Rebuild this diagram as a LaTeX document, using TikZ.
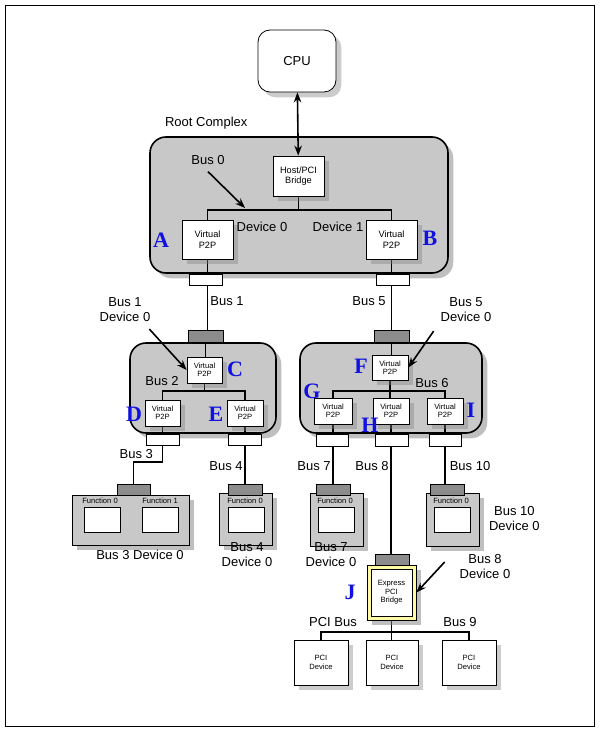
\documentclass[tikz,border=0pt]{standalone}
\usepackage{fontspec}
\setmainfont{Liberation Sans}
\newfontfamily\serifltr{Liberation Serif}
\usetikzlibrary{shadows,arrows.meta}
\pgfdeclarelayer{bg}\pgfdeclarelayer{mid}\pgfsetlayers{bg,mid,main}
\newcommand\pbox[7]{\pgfmathsetmacro\cx{(#3+#5)/2}\pgfmathsetmacro\cy{(#4+#6)/2}\pgfmathsetmacro\ww{(#5-#3)*0.5}\pgfmathsetmacro\hh{(#6-#4)*0.5}\node[#1,minimum width=\ww pt,minimum height=\hh pt,inner sep=0pt,align=center] (#2) at (\cx,\cy) {#7};}
\definecolor{grp}{HTML}{C8C8C8}
\definecolor{prt}{HTML}{8C8C8C}
\definecolor{lblue}{HTML}{1010E0}
\tikzset{
 grpbox/.style={draw,thick,fill=grp,rounded corners=8pt,drop shadow={opacity=0.5}},
 wbox/.style={draw,fill=white,drop shadow={opacity=0.4}},
 plain/.style={draw,fill=white},
 gport/.style={draw,fill=prt},
 wport/.style={draw,fill=white},
 devbox/.style={draw,fill=grp,drop shadow={opacity=0.5}},
 lab/.style={font=\fontsize{6.5}{7.5}\selectfont,align=center},
 small/.style={font=\fontsize{4.6}{5.2}\selectfont},
 tiny/.style={font=\fontsize{3.8}{4.2}\selectfont},
 let/.style={font=\serifltr\fontsize{11}{11}\selectfont\bfseries,text=lblue},
 conn/.style={thick},
 arr/.style={thick,-{Stealth[length=5pt]}}
}
\begin{document}
\begin{tikzpicture}[x=0.5pt,y=-0.5pt]
\useasboundingbox (0,0) rectangle (600,731);
\draw[thin] (5,5) rectangle (594,726);
% CPU
\pbox{draw,fill=white,rounded corners=6pt,drop shadow={opacity=0.4},lab}{cpu}{258}{30}{336}{92}{CPU}
% root complex
\begin{pgfonlayer}{bg}
\pbox{grpbox}{rc}{150}{137}{448}{273}{}
\pbox{grpbox}{gl}{130}{343}{276}{433}{}
\pbox{grpbox}{gr}{300}{343}{482}{433}{}
\end{pgfonlayer}
\node[lab,anchor=south west] (rclab) at (158,136) {Root Complex};
\pbox{wbox,small}{hb}{273}{156}{324}{196}{Host/PCI\\Bridge}
\pbox{wbox,small}{A}{182}{220}{233}{259}{Virtual\\P2P}
\pbox{wbox,small}{B}{366}{220}{417}{259}{Virtual\\P2P}
\pbox{wport}{pA}{189}{274}{222}{285}{}
\pbox{wport}{pB}{376}{274}{409}{285}{}
\node[lab] (bus0) at (208,160) {Bus 0};
\coordinate (b0t) at (245,208);
\node[lab] (dev0) at (262,227) {Device 0};
\node[lab] (dev1) at (338,227) {Device 1};
\node[let] (lA) at (161,240) {A};
\node[let] (lB) at (430,238) {B};
\node[lab] (bus1) at (227,301) {Bus 1};
\node[lab] (bus5) at (369,301) {Bus 5};
\node[lab] (b1d0) at (125,310) {Bus 1\\Device 0};
\node[lab] (b5d0) at (466,310) {Bus 5\\Device 0};
% left group
\pbox{gport}{pC}{188}{330}{223}{342}{}
\pbox{wbox,tiny}{C}{187}{357}{222}{383}{Virtual\\P2P}
\node[let] (lC) at (235,369) {C};
\node[lab] (bus2) at (162,381) {Bus 2};
\pbox{wbox,tiny}{D}{145}{400}{180}{426}{Virtual\\P2P}
\pbox{wbox,tiny}{E}{227}{400}{263}{426}{Virtual\\P2P}
\node[let] (lD) at (134,414) {D};
\node[let] (lE) at (216,414) {E};
\pbox{wport}{pD}{146}{434}{179}{445}{}
\pbox{wport}{pE}{228}{434}{261}{445}{}
\node[lab,anchor=east] (bus3) at (160,454) {Bus 3};
\node[lab] (bus4) at (226,466) {Bus 4};
% devices
\pbox{devbox}{d3}{72}{495}{189}{545}{}
\pbox{gport}{pd3}{117}{484}{150}{495}{}
\pbox{plain}{f30}{84}{507}{120}{532}{}
\pbox{plain}{f31}{142}{507}{178}{532}{}
\node[tiny] (t30) at (100,501) {Function 0};
\node[tiny] (t31) at (160,501) {Function 1};
\node[lab] (l3) at (140,555) {Bus 3 Device 0};
\pbox{devbox}{d4}{219}{493}{272}{545}{}
\pbox{gport}{pd4}{228}{484}{262}{495}{}
\pbox{plain}{f4}{228}{507}{264}{532}{}
\node[tiny] (t4) at (245,501) {Function 0};
\node[lab] (l4) at (247,555) {Bus 4\\Device 0};
% right group
\pbox{gport}{pF}{374}{330}{409}{342}{}
\pbox{wbox,tiny}{F}{372}{355}{408}{380}{Virtual\\P2P}
\node[let] (lF) at (361,366) {F};
\node[lab] (bus6) at (432,383) {Bus 6};
\pbox{wbox,tiny}{G}{314}{398}{352}{424}{Virtual\\P2P}
\pbox{wbox,tiny}{H}{373}{398}{409}{424}{Virtual\\P2P}
\pbox{wbox,tiny}{I}{427}{398}{463}{424}{Virtual\\P2P}
\node[let] (lG) at (312,391) {G};
\node[let] (lH) at (370,425) {H};
\node[let] (lI) at (471,410) {I};
\pbox{wport}{pG}{316}{434}{348}{446}{}
\pbox{wport}{pH}{375}{434}{408}{446}{}
\pbox{wport}{pI}{429}{434}{461}{446}{}
\node[lab] (bus7) at (314,466) {Bus 7};
\node[lab] (bus8) at (372,466) {Bus 8};
\node[lab] (bus10) at (470,466) {Bus 10};
\pbox{devbox}{d7}{310}{493}{363}{546}{}
\pbox{gport}{pd7}{316}{484}{350}{495}{}
\pbox{plain}{f7}{318}{507}{354}{532}{}
\node[tiny] (t7) at (335,501) {Function 0};
\node[lab] (l7) at (331,555) {Bus 7\\Device 0};
\pbox{devbox}{d10}{426}{493}{479}{546}{}
\pbox{gport}{pd10}{430}{484}{464}{495}{}
\pbox{plain}{f10}{434}{507}{470}{532}{}
\node[tiny] (t10) at (451,501) {Function 0};
\node[lab,anchor=west] (l10) at (482,519) {Bus 10\\Device 0};
% express bridge
\pbox{draw,fill=yellow!35,drop shadow={opacity=0.5}}{xb}{367}{565}{416}{620}{}
\pbox{plain,tiny}{xbi}{371}{569}{412}{616}{Express\\PCI\\Bridge}
\pbox{gport}{pxb}{375}{554}{409}{565}{}
\node[let] (lJ) at (350,592) {J};
\node[lab] (b8d0) at (485,567) {Bus 8\\Device 0};
\node[lab] (pcib) at (333,622) {PCI Bus};
\node[lab] (bus9) at (460,622) {Bus 9};
\pbox{wbox,tiny}{p1}{294}{640}{348}{685}{PCI\\Device}
\pbox{wbox,tiny}{p2}{366}{640}{418}{685}{PCI\\Device}
\pbox{wbox,tiny}{p3}{442}{640}{496}{685}{PCI\\Device}
% connectors
\begin{pgfonlayer}{mid}
\draw[conn] (hb.south) -- (hb.south|-0,210);
\draw[conn] (A.north) -- (A.north|-0,210) -- (B.north|-0,210) -- (B.north);
\draw[conn] (A.south) -- (A.south|-pC.north);
\draw[conn] (B.south) -- (B.south|-pF.north);
\draw[conn] (pC.south) -- (pC.south|-C.north);
\draw[conn] (C.south) -- (C.south|-0,391);
\draw[conn] (D.north) -- (D.north|-0,391) -- (E.north|-0,391) -- (E.north);
\draw[conn] (D.south) -- (D.south|-0,462) -| (pd3.north);
\draw[conn] (E.south) -- (E.south|-pd4.north);
\draw[conn] (pF.south) -- (pF.south|-F.north);
\draw[conn] (F.south) -- (F.south|-H.north);
\draw[conn] (G.north) -- (G.north|-0,391) -- (I.north|-0,391) -- (I.north);
\draw[conn] (G.south) -- (G.south|-pd7.north);
\draw[conn] (H.south) -- (H.south|-pxb.north);
\draw[conn] (I.south) -- (I.south|-pd10.north);
\draw[conn] (xb.south) -- (xb.south|-p2.north);
\draw[conn] (p1.north) -- (p1.north|-0,632) -- (p3.north|-0,632) -- (p3.north);
\end{pgfonlayer}
\draw[thick,{Stealth[length=5pt]}-{Stealth[length=5pt]}] (cpu) -- (hb);
\draw[arr] (bus0.south) -- (b0t);
\draw[arr] (b1d0.south east) ++(-8,0) -- (C.west);
\draw[arr] (b5d0.south west) ++(0,2) -- (F.east);
\draw[arr] (b8d0.west) ++(-8,-5) -- (xb.east);
\end{tikzpicture}
\end{document}
